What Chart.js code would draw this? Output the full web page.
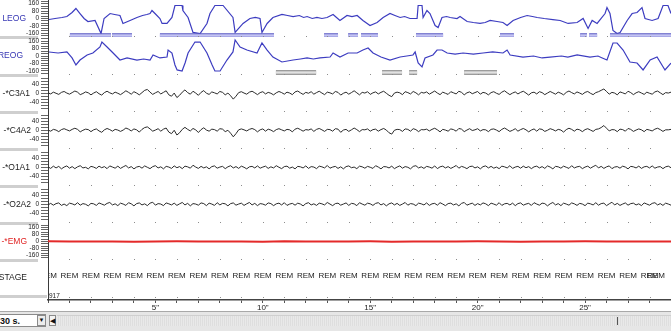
<!DOCTYPE html>
<html>
<head>
<meta charset="utf-8">
<script src="https://cdn.jsdelivr.net/npm/chart.js@4.4.1/dist/chart.umd.min.js"></script>
<style>
  body { margin: 0; width: 671px; height: 331px; overflow: hidden; position: relative; background: #fff; font-family: "Liberation Sans", Arial, sans-serif; }
  #psg { position: absolute; left: 0; top: 0; }
  .toolbar { position: absolute; left: 0; top: 311px; width: 671px; height: 20px; background: #e6e6e6; border-top: 1px solid #a8a8a8; box-sizing: border-box; }
  .combo { position: absolute; left: 0; top: 2px; width: 46px; height: 13px; background: #fff; border: 1px solid #8a8a8a; border-left: none; box-sizing: border-box; font: bold 9px "Liberation Sans", Arial, sans-serif; line-height: 12px; color: #111; }
  .drop { position: absolute; left: 37px; top: 3px; width: 9px; height: 11px; background: #ececec; border: 1px solid #8a8a8a; box-sizing: border-box; font-size: 6px; line-height: 9px; text-align: center; color: #111; }
  .sbtn { position: absolute; left: 49px; top: 3px; width: 7px; height: 11px; background: #f4f4f4; border: 1px solid #8a8a8a; box-sizing: border-box; font-size: 7px; line-height: 9px; text-align: center; color: #111; }
  .track { position: absolute; left: 57px; top: 3px; width: 614px; height: 11px; background: repeating-linear-gradient(90deg, #e9e9e9 0 1px, #dedede 1px 2px); border-top: 1px solid #cfcfcf; box-sizing: border-box; }
  .thumb { position: absolute; left: 560px; top: 1px; width: 1px; height: 8px; background: #555; }
</style>
</head>
<body>
<canvas id="psg" width="671" height="311"></canvas>
<div class="toolbar">
  <div class="combo">30 s.</div>
  <div class="drop">&#9660;</div>
  <div class="sbtn">&#9664;</div>
  <div class="track"><div class="thumb"></div></div>
</div>
<script>
// channel rows, top to bottom
const channelNames = ['LEOG', 'REOG', '-*C3A1', '-*C4A2', '-*O1A1', '-*O2A2', '-*EMG', 'STAGE'];

// left EOG (seconds, uV)
const leogTimes = [
  0.05, 0.33, 0.65, 0.88, 1.12, 1.30, 1.49, 1.68, 1.86, 2.19,
  2.47, 2.61, 2.89, 3.10, 3.35, 3.49, 3.82, 4.14, 4.40, 4.60,
  4.75, 4.84, 4.98, 5.21, 5.31, 5.54, 5.77, 5.91, 6.24, 6.28,
  6.52, 6.75, 7.08, 7.40, 7.54, 7.77, 8.15, 8.61, 8.71, 9.08,
  9.40, 9.65, 9.87, 9.96, 10.20, 10.47, 10.89, 11.15, 11.41, 11.70,
  11.90, 12.06, 12.30, 12.52, 12.75, 12.99, 13.27, 13.59, 13.92, 14.15,
  14.39, 14.66, 14.99, 15.32, 15.60, 15.92, 16.15, 16.39, 16.60, 16.85,
  17.18, 17.23, 17.41, 17.46, 17.64, 17.78, 18.02, 18.16, 18.34, 18.55,
  18.72, 19.04, 19.18, 19.51, 19.80, 20.11, 20.35, 20.58, 20.90, 21.18,
  21.37, 21.65, 22.00, 22.30, 22.55, 22.77, 23.10, 23.50, 23.84, 24.21,
  24.63, 24.91, 25.14, 25.33, 25.56, 25.93, 26.02, 26.16, 26.30, 26.49,
  26.63, 26.96, 27.19, 27.42, 27.65, 27.79, 28.12, 28.40, 28.63, 28.86,
  29.00
];
const leogValues = [
  -11, 0, 11, 21, 64, 107, 53, 0, -32, -21,
  -160, 0, 53, 43, 32, -53, -21, 11, 32, 43,
  53, 85, 53, 0, -53, -53, 11, 139, 139, 85,
  11, -149, -160, -53, 53, 139, 139, 11, -149, -53,
  0, 11, 0, -149, -53, 11, 43, 32, 21, 32,
  11, 21, 0, 11, 0, 11, 43, -21, 32, 21,
  32, -21, -75, -43, 11, 53, 32, 11, 21, 0,
  0, 139, 139, 11, 85, 53, -75, -96, 11, 21,
  11, 0, 21, -32, -43, -53, -43, -21, -32, -43,
  -75, -21, 11, 32, 21, 11, 0, -11, -21, -53,
  -43, 0, -107, -21, -53, 53, 117, 53, -128, -160,
  -149, -21, 53, 64, 117, 0, -21, 0, 139, 139,
  53
];

// right EOG (seconds, uV)
const reogTimes = [
  0.05, 0.47, 0.88, 1.12, 1.30, 1.49, 1.82, 2.09, 2.42, 2.51,
  2.75, 3.03, 3.35, 3.68, 4.14, 4.45, 4.75, 4.89, 5.21, 5.54,
  5.59, 5.77, 5.91, 6.01, 6.24, 6.38, 6.52, 6.84, 7.08, 7.40,
  7.64, 7.77, 8.01, 8.33, 8.61, 8.71, 8.94, 9.26, 9.73, 9.96,
  10.20, 10.47, 10.89, 11.41, 11.75, 12.06, 12.35, 12.66, 13.13, 13.27,
  13.59, 13.97, 14.39, 14.66, 14.90, 15.13, 15.50, 15.92, 16.39, 16.70, 16.99,
  17.09, 17.23, 17.41, 17.55, 17.92, 18.11, 18.34, 18.58, 18.95, 19.32,
  19.80, 20.25, 20.70, 21.18, 21.37, 21.51, 22.11, 22.60, 23.00, 23.37,
  23.90, 24.20, 24.63, 25.23, 25.60, 25.80, 26.02, 26.30, 26.49, 26.77,
  27.09, 27.42, 27.70, 28.03, 28.35, 28.72, 29.00
];
const reogValues = [
  43, 32, 43, -21, -96, -43, 11, 32, 96, 149,
  96, 32, -43, -21, -43, -32, -43, 11, -21, -11,
  64, 32, -96, -149, -160, -75, 32, 149, 149, 32,
  -96, -160, -160, -43, 43, 171, 96, 64, 32, 139,
  64, -11, -64, -43, -32, -21, -32, -21, -11, 32,
  -11, 32, 32, 64, 85, 32, -11, -43, -11, 0, 11,
  43, -75, -117, -21, 11, 64, 64, 32, 21, 32,
  21, 32, 43, 32, 64, 11, -11, 0, -21, -11,
  0, -11, 11, -11, 0, -21, -43, 139, 139, 64,
  -64, -75, -149, -43, -11, -149, -75
];

// EEG channels, one sample every eegStep seconds
const eegStep = 0.125;
const c3a1 = [
  3, -2, 6, 1, -4, 5, 9, 2, -3, 4, 11, 6, -5, 0, 7, 3, -6, 2, 8, -1,
  -7, 4, 10, 3, -2, 6, 1, -5, 3, 12, 5, -3, 8, 2, -6, 4, 14, 18, 6, -4,
  3, 9, -2, 5, 12, -6, -12, 2, -18, -8, 6, 16, 4, -3, 10, 2, -8, 5, 13, 1,
  -4, 7, 3, -2, 9, 5, -6, 2, -10, -25, -12, 4, 8, 2, -3, 6, 10, 3, -5, 4,
  8, -2, 5, 1, -6, 3, 9, 4, -3, 6, 2, -5, 7, 11, 3, -4, 5, 1, 8, -3,
  4, 10, 2, -5, 6, 3, -2, 9, 5, -7, 1, 6, -3, 4, 12, 3, -6, 5, 2, 8,
  -4, 3, 7, -2, 5, 10, 1, -8, -14, 2, 6, 3, -5, 8, 4, -2, 9, 3, -6, 5,
  2, 7, -3, 4, 11, 2, -5, 6, 1, -4, 8, 3, -2, 10, 5, -6, 3, 7, -1, 4,
  9, -3, 5, 2, -6, 4, 8, 1, -4, 6, 12, 3, -5, 2, 7, -2, 5, 10, 2, -7,
  3, 6, -2, 8, 4, -5, 2, 9, 3, -3, 6, 1, -6, 5, 11, 4, -2, 7, 2, -4,
  5, 9, 1, -5, 4, 8, 14, 20, 9, -3, 5, 2, -6, 7, 3, -2, 10, 4, -5, 3,
  8, 2, -4, 6, 1, -3, 7, 11, 3, -5, 4, 2, 6
];
const c4a2 = [
  2, -3, 5, 2, -5, 4, 8, 3, -2, 5, 10, 5, -6, 1, 6, 4, -5, 3, 7, -2,
  -8, 3, 9, 4, -3, 5, 2, -4, 2, 11, 6, -2, 7, 3, -7, 5, 13, 16, 7, -3,
  2, 8, -3, 6, 11, -7, -14, 1, -20, -10, 5, 14, 5, -2, 9, 3, -9, 4, 12, 2,
  -3, 6, 4, -3, 8, 6, -5, 1, -12, -28, -14, 3, 7, 3, -2, 5, 9, 4, -6, 3,
  7, -3, 6, 2, -5, 4, 8, 3, -2, 5, 3, -6, 6, 10, 4, -3, 4, 2, 7, -4,
  5, 9, 3, -4, 5, 4, -3, 8, 6, -8, 2, 5, -4, 3, 11, 4, -5, 4, 3, 7,
  -3, 4, 6, -3, 4, 9, 2, -10, -16, 1, 5, 4, -4, 7, 5, -3, 8, 4, -5, 4,
  3, 6, -2, 5, 10, 3, -6, 5, 2, -3, 7, 4, -3, 9, 6, -5, 2, 8, 0, 3,
  8, -2, 4, 3, -5, 5, 7, 2, -5, 5, 11, 4, -4, 1, 8, -3, 4, 9, 3, -6,
  2, 7, -3, 7, 5, -4, 1, 8, 4, -2, 5, 2, -7, 4, 10, 5, -3, 6, 3, -5,
  4, 8, 2, -4, 5, 7, 13, 22, 10, -2, 4, 3, -5, 6, 4, -3, 9, 5, -4, 2,
  7, 3, -5, 5, 2, -2, 6, 10, 4, -4, 3, 3, 5
];
const o1a1 = [
  3, -4, 6, -2, 5, -6, 2, 7, -3, 4, -5, 3, 8, -2, 1, -6, 5, 2, -4, 6,
  -1, 4, -5, 7, 2, -3, 6, -4, 3, 9, -2, 4, -6, 2, 5, -3, 7, 1, -5, 4,
  8, -2, 3, -6, 5, 2, -4, 7, -1, 4, -5, 6, 3, -3, 10, 2, -4, 5, -2, 3,
  -6, 4, 7, -3, 2, 5, -5, 3, 8, -2, 4, -4, 6, 1, -6, 3, 5, -2, 7, -3,
  2, 6, -4, 3, -2, 8, 1, -5, 4, 6, -3, 2, -6, 5, 3, -2, 7, -4, 4, 2,
  -5, 6, 3, -2, 9, -3, 2, 5, -4, 3, -6, 4, 7, -1, 2, -5, 6, 3, -3, 5,
  1, -4, 8, 2, -6, 4, 3, -2, 6, -5, 2, 7, -3, 4, 1, -6, 5, 8, -2, 3,
  -4, 5, 2, -3, 7, -5, 3, 6, -2, 4, -4, 2, 9, -3, 5, 1, -5, 4, 6, -2,
  3, -6, 4, 7, -2, 5, -3, 2, -5, 6, 3, -2, 8, -4, 2, 5, -3, 6, -1, 4,
  -5, 3, 6, -2, 4, -4, 7, 2, -6, 5, 3, -3, 6, 1, -4, 8, -2, 3, 5, -5,
  2, 6, -3, 4, 10, -2, 5, -4, 3, 7, -5, 2, 4, -3, 6, 2, -6, 5, 3, -2,
  6, -4, 3, 5, -2, 7, -3, 2, 4, -5, 3, 6, -1
];
const o2a2 = [
  -2, 5, -3, 4, 7, -4, 2, -5, 6, 3, -2, 8, -3, 4, 1, -6, 5, 3, -4, 7,
  2, -3, 5, 9, -2, 3, -5, 6, 2, -4, 8, 3, -6, 4, 7, -2, 3, -5, 6, 10,
  -3, 4, 2, -5, 7, 3, -2, 6, -4, 3, 9, -2, 5, -6, 4, 2, -3, 7, 4, -5,
  6, 2, -4, 8, -2, 5, 3, -6, 4, 7, -3, 2, 6, -4, 3, 9, -2, 5, -5, 4,
  2, -3, 7, 4, -5, 3, 6, -2, 8, -4, 2, 5, -3, 6, 2, -6, 4, 8, -2, 3,
  -4, 6, 3, -2, 9, 2, -5, 4, 6, -3, 2, 7, -4, 5, 3, -5, 8, 2, -3, 6,
  3, -4, 5, 8, -2, 4, -6, 3, 7, -2, 5, -4, 2, 9, -3, 4, 2, -5, 6, 3,
  -2, 7, -4, 3, 5, -3, 8, 2, -5, 4, 6, -2, 3, -6, 5, 9, -3, 2, 6, -4,
  4, -2, 7, 3, -5, 6, 2, -3, 8, -4, 3, 5, -2, 6, -5, 4, 7, -3, 2, 5,
  -4, 8, 2, -3, 6, 4, -6, 3, 9, -2, 4, -5, 6, 2, -3, 7, 3, -4, 5, 2,
  -5, 6, 3, -2, 8, -3, 4, 6, -5, 3, 10, -2, 5, -4, 2, 7, -3, 4, 6, -2,
  3, -5, 7, 2, -3, 5, 8, -2, 4, -4, 6, 2, -3
];

// chin EMG, nearly flat
const emgTimes = [0, 1, 2, 3, 4, 5, 6, 7, 8, 9, 10, 11, 12, 13, 14, 15, 16, 17, 18, 19, 20, 21, 22, 23, 24, 25, 26, 27, 28, 29];
const emgValues = [2, -1, 1, 0, -2, 1, 2, -1, 0, 1, -2, 2, 0, -1, 1, 2, -2, 0, 1, -1, 2, 0, -2, 1, 0, 2, -1, 1, 0, -1];

// scored events (seconds)
const leogEventStart = [1.02, 2.98, 5.21, 12.85, 13.97, 14.57, 17.13, 21.04, 24.77, 25.19, 26.16];
const leogEventEnd = [2.93, 3.91, 10.52, 13.50, 14.43, 15.36, 18.39, 21.69, 25.09, 25.56, 29.50];
const reogEventStart = [10.61, 15.55, 16.81, 19.37];
const reogEventEnd = [12.48, 16.48, 17.18, 20.90];

// hypnogram labels
const stageTimes = [0, 1, 2, 3, 4, 5, 6, 7, 8, 9, 10, 11, 12, 13, 14, 15, 16, 17, 18, 19, 20, 21, 22, 23, 24, 25, 26, 27, 28, 28.3];
const stageLabels = ['REM', 'REM', 'REM', 'REM', 'REM', 'REM', 'REM', 'REM', 'REM', 'REM', 'REM', 'REM', 'REM', 'REM', 'REM',
  'REM', 'REM', 'REM', 'REM', 'REM', 'REM', 'REM', 'REM', 'REM', 'REM', 'REM', 'REM', 'REM', 'REM', 'REM'];

const timeTicks = [5, 10, 15, 20, 25];
const epochNumber = '917';

// ---- drawing ----
const chartFont = '"Liberation Sans", Arial, sans-serif';
Chart.defaults.font.family = chartFont;

const rowIds = ['leog', 'reog', 'c3a1', 'c4a2', 'o1a1', 'o2a2', 'emg', 'stage'];
const labelRight = [26, 23, 30, 31, 30, 31, 27, 27];
const labelColors = ['#3636b4', '#3636b4', '#222', '#222', '#222', '#222', '#e02424', '#222'];
const EOG_BLUE = '#3c3cc0';
const EEG_INK = '#2b2b2b';

const toPoints = (ts, vs) => ts.map((t, i) => ({x: t, y: vs[i]}));
const sampled = (vs) => vs.map((v, i) => ({x: +(i * eegStep).toFixed(3), y: v}));
const eventPoints = (starts, ends, level) => {
    let pts = [];
    starts.forEach((s, i) => {
        pts.push({x: s, y: level}, {x: ends[i], y: level}, {x: ends[i], y: null});
    });
    return pts;
};

const trace = (data, axis, color, width) => ({
    data, yAxisID: axis, xAxisID: 'x', borderColor: color, borderWidth: width,
    pointRadius: 0, tension: 0, order: 2
});
const eventBar = (data, axis, color, width, order) => ({
    data, yAxisID: axis, xAxisID: 'x', borderColor: color, borderWidth: width,
    borderCapStyle: 'butt', pointRadius: 0, tension: 0, order
});

const datasets = [
    trace(toPoints(leogTimes, leogValues), 'leog', EOG_BLUE, 1.2),
    trace(toPoints(reogTimes, reogValues), 'reog', EOG_BLUE, 1.2),
    trace(sampled(c3a1), 'c3a1', EEG_INK, 1),
    trace(sampled(c4a2), 'c4a2', EEG_INK, 1),
    trace(sampled(o1a1), 'o1a1', EEG_INK, 1),
    trace(sampled(o2a2), 'o2a2', EEG_INK, 1),
    trace(toPoints(emgTimes, emgValues), 'emg', '#e42a2a', 2),
    eventBar(eventPoints(leogEventStart, leogEventEnd, -181), 'leog', '#5a5ac4', 4.5, 1),
    eventBar(eventPoints(leogEventStart, leogEventEnd, -181), 'leog', '#c4c4f2', 2.5, 0),
    eventBar(eventPoints(reogEventStart, reogEventEnd, -176), 'reog', '#7c7c7c', 4.5, 1),
    eventBar(eventPoints(reogEventStart, reogEventEnd, -176), 'reog', '#e2e2e2', 2.5, 0)
];

// one ruler axis per channel row, stacked on the left
const rowAxis = (weight, rows, half, step) => ({
    type: 'linear', position: 'left', stack: 'rows', stackWeight: rows, weight,
    min: -half, max: half,
    afterBuildTicks: (axis) => {
        const ticks = [];
        const n = Math.floor(half / step - 0.3);
        for (let k = -n; k <= n; k++) ticks.push({value: k * step});
        axis.ticks = ticks;
    },
    afterFit: (axis) => { axis.width = 48; axis.paddingTop = 0; axis.paddingBottom = 0; },
    ticks: {
        autoSkip: false, padding: 2, color: '#222', font: {size: 6.5},
        callback: (v) => Math.round(v / step) % 3 === 0 ? String(Math.round(v)) : ''
    },
    grid: {drawOnChartArea: false, tickLength: 7, color: '#666', tickWidth: 1},
    border: {color: '#3a3a3a', width: 1}
});

const psgPanel = {
    id: 'psgPanel',
    beforeDraw(chart) {
        const {ctx, scales} = chart;
        ctx.save();
        ctx.fillStyle = '#fff';
        ctx.fillRect(0, 0, chart.width, chart.height);
        // row separators on the label panel
        rowIds.forEach((id) => {
            const s = scales[id];
            const y = id === 'stage' ? s.bottom - 4 : s.bottom;
            ctx.fillStyle = '#cfcfcf';
            ctx.fillRect(0, Math.round(y) - 1, id === 'stage' ? 47 : 38, 3);
        });
        ctx.restore();
    },
    afterDraw(chart) {
        const {ctx, chartArea, scales} = chart;
        const x = scales.x;
        ctx.save();
        // channel names
        ctx.font = '8.5px ' + chartFont;
        ctx.textAlign = 'right';
        ctx.textBaseline = 'middle';
        rowIds.forEach((id, i) => {
            const s = scales[id];
            ctx.fillStyle = labelColors[i];
            ctx.fillText(channelNames[i], labelRight[i], (s.top + s.bottom) / 2 + (id === 'stage' ? -2 : 0));
        });
        // one dot per second on every row boundary
        ctx.fillStyle = '#8c8c8c';
        for (let t = 1; t < 29; t++) {
            const px = Math.round(x.getPixelForValue(t));
            rowIds.forEach((id) => {
                const s = scales[id];
                const py = id === 'stage' ? s.bottom - 3 : s.bottom - 1;
                ctx.fillRect(px, Math.round(py), 1, 1);
            });
        }
        // stage labels, clipped to the plot
        ctx.beginPath();
        ctx.rect(chartArea.left + 1, chartArea.top, chartArea.right - chartArea.left, chartArea.bottom - chartArea.top);
        ctx.clip();
        ctx.fillStyle = '#1a1a1a';
        ctx.font = '8px ' + chartFont;
        ctx.textAlign = 'center';
        ctx.textBaseline = 'middle';
        const sy = scales.stage.getPixelForValue(0.6);
        stageTimes.forEach((t, i) => ctx.fillText(stageLabels[i], x.getPixelForValue(t), sy));
        ctx.font = '6.5px ' + chartFont;
        ctx.textAlign = 'left';
        ctx.textBaseline = 'alphabetic';
        ctx.fillText(epochNumber, chartArea.left + 1, chartArea.bottom - 2);
        ctx.restore();
    }
};

new Chart(document.getElementById('psg'), {
    type: 'line',
    data: {datasets},
    options: {
        responsive: false,
        animation: false,
        devicePixelRatio: 1,
        layout: {padding: 0},
        plugins: {legend: {display: false}, tooltip: {enabled: false}},
        scales: {
            x: {
                type: 'linear', position: 'bottom', min: 0, max: 29,
                afterBuildTicks: (axis) => {
                    const ticks = [];
                    for (let t = 0; t <= 29; t++) ticks.push({value: t});
                    axis.ticks = ticks;
                },
                afterFit: (axis) => { axis.height = 11; axis.paddingLeft = 0; axis.paddingRight = 0; },
                ticks: {
                    autoSkip: false, maxRotation: 0, padding: 0, color: '#222', font: {size: 8},
                    callback: (v) => timeTicks.includes(v) ? v + '"' : ''
                },
                grid: {drawOnChartArea: false, tickLength: 3, color: '#555'},
                border: {color: '#444', width: 1.5}
            },
            leog: rowAxis(8, 37, 197.5, 80 / 3),
            reog: rowAxis(7, 38, 203, 80 / 3),
            c3a1: rowAxis(6, 37, 82, 40 / 3),
            c4a2: rowAxis(5, 37, 82, 40 / 3),
            o1a1: rowAxis(4, 37, 82, 40 / 3),
            o2a2: rowAxis(3, 37, 82, 40 / 3),
            emg: rowAxis(2, 37, 211, 80 / 3),
            stage: {
                type: 'linear', position: 'left', stack: 'rows', stackWeight: 40, weight: 1,
                min: 0, max: 1,
                afterFit: (axis) => { axis.width = 48; axis.paddingTop = 0; axis.paddingBottom = 0; },
                ticks: {display: false},
                grid: {display: false},
                border: {color: '#3a3a3a', width: 1}
            }
        }
    },
    plugins: [psgPanel]
});
</script>
</body>
</html>
